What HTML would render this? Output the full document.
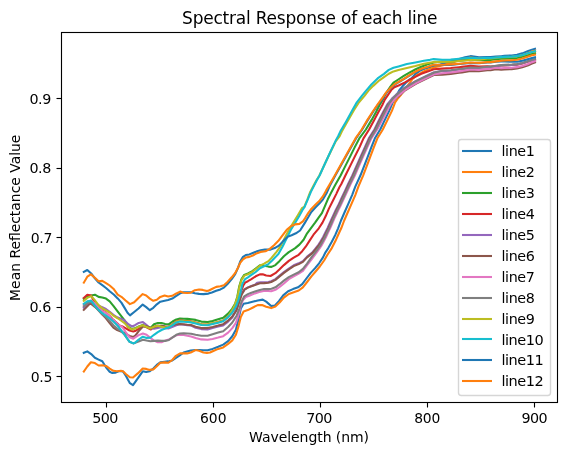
<!DOCTYPE html>
<html lang="en"><head><meta charset="utf-8"><title>Spectral Response of each line</title>
<style>html,body{margin:0;padding:0;background:#fff}svg{display:block}text{font-family:"DejaVu Sans","Liberation Sans",sans-serif;fill:#000}.t{font-size:13.889px}.c polyline{fill:none;stroke-width:2.0833;stroke-linejoin:round;stroke-linecap:square}.k line{stroke:#000;stroke-width:1.111}.g line{stroke-width:2.0833;stroke-linecap:square}</style></head><body>
<svg width="567" height="455" viewBox="0 0 567 455">
<rect width="567" height="455" fill="#fff"/>
<clipPath id="ax"><rect x="61.5" y="32.5" width="496" height="370"/></clipPath>
<g class="c" clip-path="url(#ax)"><g transform="translate(0,-0.2)">
<polyline stroke="#1f77b4" points="83.80,353.00 87.30,351.60 91.20,354.30 94.90,358.00 98.60,359.80 102.30,361.50 106.00,367.50 109.70,372.00 111.90,373.10 115.60,372.80 119.30,371.20 123.00,371.70 126.10,376.50 129.90,383.40 133.00,385.40 137.80,378.50 142.70,371.50 146.20,372.20 149.80,371.50 153.30,368.70 156.80,365.10 160.30,362.60 164.60,362.00 168.10,361.60 172.30,360.60 175.90,358.10 180.10,355.30 183.60,352.70 187.10,351.70 190.70,350.70 195.60,350.20 199.10,350.20 203.40,350.40 207.60,350.40 212.60,349.10 218.20,346.90 223.20,344.80 228.10,341.30 232.30,336.40 235.90,330.00 238.70,318.70 240.80,308.80 243.60,303.90 247.80,303.20 253.50,301.80 257.70,300.70 262.70,299.80 266.20,301.80 271.20,306.20 274.70,305.80 278.90,301.30 283.20,295.60 288.10,291.40 293.00,289.30 298.00,287.50 302.20,284.40 306.40,278.70 310.70,273.10 314.90,268.60 319.10,263.50 323.00,257.60 325.50,252.50 328.30,248.30 331.80,242.00 335.40,234.90 338.10,228.50 341.00,220.70 344.70,212.20 348.40,203.80 352.10,195.30 355.30,186.80 360.50,175.50 364.40,165.50 367.90,156.50 371.50,147.10 374.89,138.50 380.20,129.70 384.84,120.10 389.19,111.10 393.00,102.00 396.60,95.50 399.35,90.47 402.30,86.77 405.40,83.38 408.60,80.39 411.80,78.21 415.70,74.20 419.70,71.10 423.70,69.16 427.00,68.17 430.30,67.10 434.70,66.00 440.00,64.80 445.00,63.50 450.00,62.00 455.00,60.50 460.00,59.00 465.00,57.50 470.50,56.35 478.90,57.51 487.40,57.16 490.60,57.35 495.90,56.82 501.20,56.37 504.30,56.10 511.70,55.62 517.00,55.05 522.30,53.57 527.60,51.53 532.00,49.85 535.00,48.99"/>
<polyline stroke="#ff7f0e" points="83.80,371.70 87.30,366.70 90.90,362.50 94.90,363.30 98.60,365.70 102.30,365.40 106.00,366.10 109.70,368.90 113.40,371.00 117.20,371.40 120.90,371.00 123.00,371.40 126.10,374.40 129.90,377.50 133.00,377.70 137.80,373.60 142.70,368.70 146.20,369.10 149.80,370.10 153.30,369.60 156.80,366.50 160.30,363.00 164.60,362.60 168.10,363.00 172.30,360.20 175.90,356.00 180.10,353.60 183.60,353.60 187.10,353.60 190.70,352.70 195.60,350.30 199.10,351.00 203.40,352.70 206.90,353.10 210.00,352.70 213.30,351.20 218.20,349.10 223.20,347.60 228.10,344.10 232.30,340.60 235.90,334.90 238.70,325.80 240.80,317.30 243.60,311.70 247.80,310.30 253.50,307.40 257.70,305.30 262.00,305.20 266.20,306.90 271.20,308.30 275.40,306.70 279.60,302.70 283.90,297.80 288.80,294.20 293.70,292.50 298.70,290.70 302.90,287.50 307.10,282.20 311.40,276.60 315.60,271.70 319.80,266.70 324.10,260.70 327.60,254.70 331.80,248.30 335.40,241.30 338.90,233.50 341.20,228.50 344.20,220.70 347.90,212.20 351.60,203.80 355.30,195.30 358.40,186.80 363.20,175.50 367.00,165.50 370.40,156.50 374.00,147.10 377.39,138.50 382.80,129.70 387.54,120.10 391.89,111.10 395.12,102.50 398.18,98.20 401.27,94.70 404.00,91.00 408.00,85.36 412.20,79.50 416.50,75.70 421.30,72.99 425.30,70.90 429.00,69.30 434.70,67.50 440.00,66.30 445.00,65.00 450.00,63.50 455.00,62.00 460.00,60.50 465.00,59.00 470.50,57.79 478.90,58.73 487.40,58.47 490.60,58.70 495.90,58.25 501.20,57.87 504.30,57.65 511.70,57.28 517.00,56.78 522.30,55.37 527.60,53.41 532.00,51.80 535.00,50.98"/>
<polyline stroke="#2ca02c" points="83.80,299.00 87.30,296.50 91.20,295.60 94.90,294.90 98.60,297.10 102.30,297.70 106.00,298.80 109.70,301.60 113.40,306.10 117.20,311.10 120.90,315.90 124.60,320.70 128.00,326.86 131.50,329.19 135.00,328.53 138.70,326.70 142.90,325.10 146.60,327.00 150.30,328.30 154.00,324.40 157.80,323.30 161.50,323.30 165.20,324.20 168.90,324.40 172.60,321.70 176.30,319.60 180.00,318.80 183.70,318.90 187.40,319.10 191.10,319.40 195.60,320.10 201.30,321.80 207.60,322.20 212.60,321.30 218.20,319.40 223.20,318.00 228.10,313.80 232.30,308.80 235.10,303.90 237.30,296.90 239.20,286.70 241.40,279.50 244.20,275.10 247.90,273.70 251.40,272.00 255.70,268.70 259.90,265.50 264.10,266.00 268.40,266.80 271.50,267.10 275.40,265.30 279.60,261.10 283.90,256.40 288.80,252.30 292.50,250.00 295.20,248.30 299.40,244.80 303.60,239.90 307.10,233.50 310.80,228.50 315.10,222.80 318.80,217.50 321.90,213.30 324.60,207.00 327.80,199.50 331.50,192.10 335.20,185.30 340.60,175.70 345.40,166.10 350.20,156.60 354.90,147.10 359.29,138.60 365.90,129.70 371.64,120.10 376.03,112.20 380.08,104.30 383.30,98.90 386.00,93.52 388.30,89.92 390.40,86.80 393.50,82.90 398.30,79.70 403.80,76.06 409.40,72.85 415.70,69.43 421.30,66.90 427.00,64.70 433.70,62.60 442.20,61.77 450.70,61.72 459.10,60.97 462.00,60.75 470.50,59.98 478.90,60.43 487.40,59.89 490.60,60.04 495.90,59.46 501.20,59.01 504.30,58.82 511.70,58.56 517.00,58.15 522.30,57.02 527.60,55.35 532.00,53.98 535.00,53.34"/>
<polyline stroke="#d62728" points="83.80,298.10 87.30,294.90 91.20,295.80 94.90,303.70 98.60,307.70 102.30,310.70 106.00,312.90 109.70,316.20 113.40,320.08 117.20,323.50 119.50,325.70 122.50,326.70 125.00,328.00 129.60,330.70 133.30,331.70 135.00,331.30 138.70,329.10 142.90,326.00 146.60,327.50 150.90,329.70 154.00,327.00 157.80,326.00 161.50,327.00 165.20,327.80 168.90,327.00 172.60,324.30 176.30,321.50 180.00,320.70 183.70,321.00 187.40,321.20 191.10,321.60 195.60,322.80 201.30,324.50 207.60,324.80 212.60,323.60 218.20,322.20 223.20,320.80 228.10,316.60 232.30,311.80 236.50,306.50 239.50,297.50 241.50,290.50 243.30,285.50 245.10,282.80 247.90,281.40 251.40,279.30 255.70,276.50 259.90,274.60 262.70,274.50 266.20,275.70 270.50,276.20 275.40,273.40 279.60,269.50 283.90,265.30 288.80,261.10 293.70,257.80 298.70,255.00 302.20,251.40 305.70,246.90 309.30,241.30 313.50,234.90 318.80,228.50 322.50,222.80 325.60,216.50 328.80,209.10 332.50,201.70 336.20,194.30 339.40,187.40 341.20,184.50 345.40,175.70 350.20,166.10 354.90,156.60 359.70,147.10 363.49,138.60 369.10,129.70 373.69,121.20 378.14,112.70 382.21,105.50 384.82,99.80 388.53,94.30 391.25,90.30 394.30,87.50 399.10,85.50 404.60,82.80 410.20,79.60 415.70,76.80 421.30,74.00 429.00,71.30 433.70,69.50 442.20,68.80 450.70,68.20 459.10,67.40 462.00,67.09 470.50,66.10 478.90,66.81 487.40,66.43 490.60,66.63 495.90,66.14 501.20,65.75 504.30,65.55 511.70,65.26 517.00,64.82 522.30,63.68 527.60,61.99 532.00,60.60 535.00,59.94"/>
<polyline stroke="#9467bd" points="83.80,308.00 87.30,304.50 91.20,302.30 94.90,304.00 98.60,306.00 102.30,307.50 106.00,309.20 109.70,312.00 113.40,315.00 117.20,317.50 120.90,318.90 124.60,320.70 128.30,324.40 132.00,326.70 135.00,325.40 138.70,323.10 142.90,322.30 146.60,325.30 150.30,328.40 154.00,329.00 157.80,328.10 161.50,327.50 165.20,328.40 168.90,328.60 172.60,327.00 176.30,325.40 180.00,324.40 183.70,324.90 187.40,325.40 191.10,325.70 195.60,327.90 201.30,329.30 207.60,329.60 212.60,328.30 218.20,326.80 223.20,325.60 228.10,321.80 232.30,317.80 236.30,310.30 238.80,300.50 240.80,293.50 243.20,291.93 244.40,289.70 247.90,287.60 251.40,286.20 255.00,284.94 257.10,282.90 260.60,282.50 264.80,282.50 268.40,282.30 271.20,281.48 275.40,279.30 279.60,275.80 283.90,272.30 288.80,268.70 293.70,265.50 298.70,263.50 302.90,261.30 307.10,256.80 311.90,253.10 314.77,249.70 317.77,245.90 320.44,241.70 323.00,237.40 325.23,232.90 327.50,228.40 329.72,223.50 331.73,218.80 334.04,214.00 335.64,210.50 337.85,206.30 341.47,198.50 345.19,190.60 348.00,184.50 352.30,175.70 356.50,166.10 360.70,156.60 365.00,147.10 368.79,138.60 374.40,129.70 379.04,120.10 383.41,111.70 387.48,104.30 391.97,98.79 395.84,95.10 399.57,91.90 404.00,88.30 409.60,84.80 415.10,81.60 420.70,78.80 428.40,75.21 433.10,72.79 442.20,71.29 450.70,70.83 459.10,69.68 462.00,69.33 470.50,68.17 478.90,68.28 487.40,67.28 490.60,67.26 495.90,66.39 501.20,65.70 504.30,65.49 511.70,65.17 517.00,64.70 522.30,63.54 527.60,61.82 532.00,60.41 535.00,59.74"/>
<polyline stroke="#8c564b" points="83.80,310.10 87.30,306.40 90.20,303.40 94.90,307.00 98.60,310.50 102.30,314.80 106.00,318.50 109.70,323.20 113.40,327.80 117.20,330.30 120.90,331.80 125.90,334.00 129.60,336.20 133.30,337.20 135.50,335.50 138.70,331.30 142.90,326.70 146.60,326.50 150.30,328.00 154.00,327.50 157.80,326.50 161.50,326.00 165.20,326.50 168.90,326.80 172.60,325.50 176.30,324.40 180.00,324.20 183.70,324.40 187.40,324.90 191.10,325.30 195.60,326.90 201.30,328.30 207.60,328.30 212.60,327.20 218.20,325.80 223.20,324.40 228.10,320.80 232.30,316.60 236.60,310.30 239.40,301.80 241.50,295.30 244.40,289.90 247.90,287.80 251.40,286.40 255.70,284.90 259.90,283.50 264.10,283.30 268.40,282.90 271.20,282.20 275.40,280.10 279.60,276.60 283.90,273.10 288.80,269.50 293.70,266.30 298.70,264.30 302.90,262.10 307.10,257.60 312.60,253.10 315.51,249.70 318.56,245.90 321.29,241.70 323.90,237.40 326.13,232.90 328.40,228.40 330.60,223.50 332.60,218.80 334.90,214.00 336.50,210.50 338.70,206.30 342.30,198.50 346.00,190.60 348.80,184.50 353.10,175.70 357.30,166.10 361.50,156.60 365.80,147.10 369.59,138.60 375.20,129.70 379.84,120.10 384.21,111.70 388.28,104.36 393.25,101.20 397.13,97.30 401.03,94.10 405.20,90.50 410.80,87.00 416.30,83.80 421.90,81.00 429.60,77.27 434.30,75.10 442.20,74.80 450.70,74.10 459.10,73.00 462.00,72.55 470.50,71.10 478.90,71.50 487.40,70.49 490.60,70.44 495.90,69.41 501.20,69.80 504.30,69.60 511.70,69.30 517.00,68.75 522.30,67.50 527.60,65.80 532.00,63.77 535.00,62.64"/>
<polyline stroke="#e377c2" points="83.80,305.00 87.30,302.00 91.20,300.70 94.90,304.00 98.60,308.00 102.30,311.00 106.00,313.20 109.70,316.50 111.10,318.70 114.80,321.40 118.50,325.10 122.20,327.20 125.90,332.50 129.60,337.48 133.30,338.90 135.50,337.40 138.70,335.34 142.90,333.70 146.60,335.00 150.30,338.10 154.00,340.80 157.80,342.40 161.50,342.40 165.20,340.80 168.90,339.70 172.60,337.60 176.30,335.50 180.00,335.00 183.70,335.20 187.40,336.00 191.10,336.70 195.60,338.20 201.30,339.60 207.60,339.90 212.60,339.20 218.20,337.80 223.20,336.40 228.10,332.80 232.30,328.30 235.90,323.00 238.70,314.50 240.80,306.00 242.90,300.40 245.70,297.30 249.30,295.90 254.90,293.60 259.10,292.20 264.80,291.00 271.20,291.40 275.40,290.00 279.60,287.20 283.90,283.70 288.80,279.40 293.70,276.60 298.70,273.80 302.90,271.00 307.10,265.30 311.40,259.70 316.40,253.10 318.87,249.70 321.42,245.90 323.71,241.70 325.90,237.40 327.93,232.90 330.10,228.40 332.30,223.50 334.30,218.80 336.60,214.00 338.20,210.50 340.40,206.30 344.00,198.50 347.70,190.60 350.50,184.50 354.84,175.70 359.03,166.10 363.22,156.60 367.51,147.10 371.35,138.60 377.26,129.70 382.20,120.10 386.71,111.70 390.66,104.43 393.63,100.40 397.50,96.50 401.40,93.30 405.60,89.70 411.20,86.20 416.70,83.00 422.30,80.20 430.00,76.43 434.70,74.30 442.20,73.40 450.70,72.70 459.10,71.60 462.00,71.15 470.50,69.70 478.90,70.10 487.40,69.09 490.60,69.04 495.90,68.01 501.20,68.40 504.30,68.20 511.70,67.90 517.00,67.35 522.30,66.10 527.60,64.40 532.00,62.37 535.00,61.24"/>
<polyline stroke="#7f7f7f" points="83.80,306.40 87.30,303.50 91.20,302.00 94.90,306.50 98.60,310.80 102.30,314.50 106.00,317.50 109.70,321.20 113.40,325.40 117.20,328.80 120.90,331.00 124.60,335.10 127.50,339.20 129.60,342.00 133.30,343.60 136.50,342.50 139.20,341.50 142.90,340.00 146.60,340.80 150.30,341.50 154.00,341.10 157.80,340.80 161.50,341.10 165.20,341.10 168.90,340.20 172.60,337.60 176.30,335.00 180.00,333.70 183.70,333.40 187.40,333.70 191.10,334.00 195.60,334.90 201.30,335.90 207.60,335.90 212.60,334.50 218.20,332.80 223.20,331.40 228.10,327.20 232.30,322.70 236.60,315.90 239.40,308.80 241.50,302.00 244.30,296.50 247.90,294.30 251.40,292.90 255.70,291.50 259.90,290.10 264.10,289.30 268.40,289.30 271.50,288.90 275.40,287.50 279.60,284.40 283.90,280.80 288.80,277.30 293.70,274.80 298.70,272.40 302.90,269.10 307.10,263.90 311.40,257.60 314.90,253.10 317.50,249.70 320.20,245.90 322.60,241.70 324.90,237.40 327.00,232.90 329.20,228.40 331.40,223.50 333.40,218.80 335.70,214.00 337.30,210.50 339.50,206.30 343.10,198.50 346.80,190.60 349.60,184.50 353.90,175.70 358.10,166.10 362.30,156.60 366.60,147.10 370.39,138.60 376.00,129.70 380.64,120.10 385.01,111.70 389.62,102.82 392.58,99.00 396.46,95.10 400.22,91.90 404.60,88.30 410.20,84.80 415.70,81.60 421.30,78.80 429.00,75.14 433.70,72.90 442.20,70.89 450.70,70.43 459.10,69.28 462.00,68.93 470.50,67.77 478.90,67.88 487.40,66.88 490.60,66.86 495.90,65.99 501.20,65.30 504.30,65.09 511.70,64.77 517.00,64.30 522.30,63.14 527.60,61.42 532.00,60.01 535.00,59.34"/>
<polyline stroke="#bcbd22" points="83.80,301.10 87.30,298.10 91.20,296.30 94.90,300.50 98.60,305.30 102.30,308.50 106.00,310.60 109.70,312.70 113.40,315.90 117.20,318.20 120.90,320.70 124.60,323.30 128.30,327.50 132.00,329.80 135.10,328.80 138.70,327.00 142.90,325.40 146.60,327.30 150.30,328.60 154.00,327.00 157.80,326.00 161.50,327.00 165.20,327.80 168.90,327.00 172.60,324.50 176.30,321.70 180.00,320.90 183.70,321.20 187.40,321.40 191.10,321.80 195.60,323.00 201.30,324.40 207.60,324.70 212.60,323.50 218.20,322.10 223.20,320.70 228.10,316.50 232.30,310.30 235.10,304.60 237.50,297.30 239.40,287.10 241.60,280.00 244.40,275.80 247.90,274.40 251.40,272.70 255.70,269.40 259.90,265.90 264.10,263.80 268.40,261.40 271.50,258.10 274.00,255.00 276.50,252.00 280.30,246.90 284.60,238.50 289.05,230.00 293.70,222.20 298.00,215.20 302.20,208.10 304.30,207.00 307.40,199.50 310.23,192.10 313.60,185.80 316.47,180.50 319.43,175.70 324.90,164.00 330.37,152.40 335.83,141.30 339.55,136.50 341.80,131.68 347.86,120.98 353.74,110.75 359.00,102.50 364.28,96.38 368.50,90.78 373.20,86.05 379.40,80.52 384.00,77.30 388.80,73.95 393.50,71.61 398.50,70.20 406.90,68.20 415.40,66.30 423.90,64.00 433.70,62.10 442.20,62.06 450.70,61.98 459.10,61.20 462.00,60.98 470.50,60.14 478.90,59.89 487.40,58.56 490.60,58.67 495.90,58.02 501.20,57.50 504.30,57.30 511.70,57.00 517.00,56.55 522.30,55.40 527.60,53.70 532.00,52.30 535.00,51.64"/>
<polyline stroke="#17becf" points="83.80,304.00 87.30,301.60 91.20,301.10 94.90,305.80 98.60,310.10 102.30,313.30 106.00,315.90 109.70,318.50 113.40,321.70 117.20,325.40 120.90,330.20 124.60,334.90 127.50,339.00 129.60,342.00 133.30,343.60 135.00,342.90 138.70,339.70 142.90,336.90 146.60,338.10 150.30,337.90 154.00,335.00 157.80,332.30 161.50,330.20 165.20,328.80 168.90,327.50 172.60,325.37 176.30,322.59 180.00,321.70 183.70,322.00 187.40,322.20 191.10,322.60 195.60,323.80 201.30,325.20 207.60,325.50 212.60,324.30 218.20,322.90 223.20,321.50 228.10,317.31 232.30,312.76 235.90,306.70 238.30,300.50 240.20,294.10 242.30,284.20 245.10,279.30 247.90,277.50 251.40,275.10 255.70,272.20 259.90,268.40 264.10,266.50 268.40,264.30 271.90,261.00 275.00,257.70 278.40,254.30 282.50,246.90 286.70,238.50 290.90,230.00 295.20,223.00 299.40,215.90 302.90,209.50 304.60,207.00 307.80,199.50 310.90,192.10 314.10,185.80 316.80,180.50 319.60,175.70 324.90,164.00 330.20,152.40 335.50,141.30 338.11,136.50 340.27,131.80 346.31,121.35 352.06,110.90 356.82,102.59 361.66,96.35 365.50,91.52 371.40,84.73 377.60,78.60 384.00,74.06 388.80,70.12 393.50,67.98 398.50,66.58 406.90,64.19 415.40,62.63 423.90,61.03 430.00,60.05 433.70,59.30 442.20,59.90 450.70,59.79 459.10,58.98 462.00,58.74 470.50,57.89 478.90,58.42 487.40,58.00 490.60,58.20 495.90,57.70 501.20,57.30 504.30,57.10 511.70,56.80 517.00,56.35 522.30,55.20 527.60,53.50 532.00,52.10 535.00,51.44"/>
<polyline stroke="#1f77b4" points="83.80,272.10 87.30,270.20 91.20,273.70 94.90,278.50 98.60,282.70 102.30,285.40 106.00,288.20 109.70,291.40 114.00,294.90 117.70,298.60 121.40,302.80 124.60,308.10 127.50,313.00 130.00,315.60 134.20,312.20 138.50,308.70 142.70,304.80 146.20,307.30 149.80,310.40 153.30,308.00 156.80,304.50 160.30,301.90 164.60,301.00 168.10,300.30 172.30,298.80 175.90,296.30 180.10,293.50 183.60,292.50 187.10,292.50 190.70,292.50 194.90,293.50 199.10,294.10 203.50,294.30 208.40,293.80 211.90,292.70 216.20,291.00 220.40,289.60 223.90,287.80 227.50,284.20 231.70,279.30 235.20,274.40 238.00,268.00 240.20,261.70 243.00,257.10 245.80,255.30 249.30,254.60 252.80,253.20 257.10,251.50 260.60,250.40 264.80,249.80 270.50,249.80 274.70,248.30 278.90,245.80 283.20,241.30 287.40,237.10 291.60,235.40 295.90,233.50 300.10,230.70 305.00,222.80 308.20,217.50 311.30,212.20 315.60,207.50 319.80,203.30 323.00,199.50 326.50,193.50 329.80,186.00 335.30,175.70 340.60,166.10 345.90,156.60 351.20,147.10 355.99,138.60 362.20,129.70 367.94,120.10 373.31,111.70 378.38,104.30 383.40,98.10 384.20,95.73 388.20,90.78 392.20,86.84 396.20,83.79 400.20,81.46 404.20,79.13 408.20,76.46 412.20,73.98 416.20,71.76 420.20,69.75 424.20,68.37 428.20,67.10 433.70,65.30 442.20,65.20 450.70,65.04 459.10,64.19 462.00,63.94 470.50,63.08 478.90,63.38 487.40,62.59 490.60,62.64 495.90,61.95 501.20,61.72 504.30,61.71 511.70,61.96 517.00,61.90 522.30,60.91 527.60,59.36 532.00,58.10 535.00,57.53"/>
<polyline stroke="#ff7f0e" points="83.80,282.90 87.30,276.90 90.90,274.60 94.90,278.00 98.60,281.50 102.30,281.10 106.00,283.30 109.70,285.70 113.40,288.90 117.70,294.90 121.40,297.00 125.60,300.70 129.90,304.30 134.20,302.40 138.50,298.10 142.70,294.30 146.20,295.70 149.80,298.80 153.30,301.00 156.80,300.00 160.30,297.10 164.60,295.70 168.10,296.70 172.30,296.00 175.90,293.90 180.10,291.80 183.60,292.90 187.10,293.20 190.70,292.90 194.90,290.40 199.10,289.70 202.70,290.10 206.90,291.10 208.40,291.00 211.90,289.20 216.20,287.10 220.40,286.40 223.90,285.40 227.50,282.10 231.70,277.50 235.20,273.20 238.00,268.00 240.20,263.10 243.00,259.50 245.80,257.70 249.30,257.10 252.80,255.70 257.10,253.40 260.60,252.10 265.50,251.50 269.80,249.10 274.00,245.50 278.20,241.30 282.50,235.60 286.70,230.00 290.90,226.50 295.20,224.60 299.40,224.10 302.90,221.50 305.00,218.60 308.20,213.30 311.30,209.10 315.60,204.80 319.80,200.60 323.00,196.40 326.20,190.60 329.30,185.30 334.80,175.70 340.10,166.10 345.40,156.60 350.70,147.10 355.49,138.60 361.70,129.70 367.44,120.10 372.81,111.70 377.88,104.30 382.90,97.30 386.20,92.55 390.30,88.30 394.30,84.60 399.10,81.80 404.60,78.60 410.20,74.81 415.70,71.72 421.30,68.90 426.90,67.30 430.00,66.10 433.70,65.00 442.20,64.90 450.70,64.74 459.10,63.89 462.00,63.64 470.50,62.78 478.90,63.08 487.40,62.29 490.60,62.34 495.90,61.59 501.20,60.99 504.30,60.76 511.70,60.40 517.00,59.90 522.30,58.71 527.60,56.96 532.00,55.53 535.00,54.84"/>
</g></g>
<g class="k">
<line x1="106.5" y1="402.5" x2="106.5" y2="407.5"/>
<line x1="213.5" y1="402.5" x2="213.5" y2="407.5"/>
<line x1="320.5" y1="402.5" x2="320.5" y2="407.5"/>
<line x1="427.5" y1="402.5" x2="427.5" y2="407.5"/>
<line x1="534.5" y1="402.5" x2="534.5" y2="407.5"/>
<line x1="56.5" y1="98.5" x2="61.5" y2="98.5"/>
<line x1="56.5" y1="168.5" x2="61.5" y2="168.5"/>
<line x1="56.5" y1="237.5" x2="61.5" y2="237.5"/>
<line x1="56.5" y1="307.5" x2="61.5" y2="307.5"/>
<line x1="56.5" y1="376.5" x2="61.5" y2="376.5"/>
</g>
<rect x="61.5" y="32.5" width="496" height="370" fill="none" stroke="#000" stroke-width="1.111"/>
<g class="t">
<text x="105.25" y="423" text-anchor="middle" font-size="14.3px" textLength="26.25">500</text>
<text x="213.25" y="423" text-anchor="middle" font-size="13.889px">600</text>
<text x="319.25" y="423" text-anchor="middle" font-size="14.3px" textLength="26.25">700</text>
<text x="427.25" y="423" text-anchor="middle" font-size="13.889px" textLength="26.25">800</text>
<text x="534.5" y="423" text-anchor="middle" font-size="14.3px" textLength="26.25">900</text>
<text x="52.5" y="382" text-anchor="end" font-size="14.0px" textLength="21.875">0.5</text>
<text x="51.25" y="312" text-anchor="end" font-size="14.3px" textLength="21.875">0.6</text>
<text x="52.5" y="243" text-anchor="end" font-size="14.0px" textLength="21.875">0.7</text>
<text x="51.25" y="173" text-anchor="end" font-size="14.3px" textLength="21.875">0.8</text>
<text x="51.25" y="104" text-anchor="end" font-size="14.3px" textLength="21.875">0.9</text>
<text x="309.05" y="442" text-anchor="middle" font-size="14px" textLength="120">Wavelength (nm)</text>
<text transform="translate(20.2,217.75) rotate(-90)" text-anchor="middle" textLength="166.25">Mean Reflectance Value</text>
</g>
<text x="309.8" y="24" text-anchor="middle" font-size="17px" textLength="255.5">Spectral Response of each line</text>
<rect x="458.5" y="139.5" width="92" height="256" rx="2.78" ry="2.78" fill="#fff" fill-opacity="0.8" stroke="#ccc" stroke-opacity="0.8" stroke-width="1.389"/>
<g class="g">
<line x1="463.06" y1="151" x2="490.94" y2="151" stroke="#1f77b4"/>
<line x1="463.06" y1="172" x2="490.94" y2="172" stroke="#ff7f0e"/>
<line x1="463.06" y1="193" x2="490.94" y2="193" stroke="#2ca02c"/>
<line x1="463.06" y1="214" x2="490.94" y2="214" stroke="#d62728"/>
<line x1="463.06" y1="235" x2="490.94" y2="235" stroke="#9467bd"/>
<line x1="463.06" y1="256" x2="490.94" y2="256" stroke="#8c564b"/>
<line x1="463.06" y1="277" x2="490.94" y2="277" stroke="#e377c2"/>
<line x1="463.06" y1="298" x2="490.94" y2="298" stroke="#7f7f7f"/>
<line x1="463.06" y1="319" x2="490.94" y2="319" stroke="#bcbd22"/>
<line x1="463.06" y1="339" x2="490.94" y2="339" stroke="#17becf"/>
<line x1="463.06" y1="360" x2="490.94" y2="360" stroke="#1f77b4"/>
<line x1="463.06" y1="381" x2="490.94" y2="381" stroke="#ff7f0e"/>
</g><g class="t" style="font-size:14.3px">
<text x="501.5" y="156" textLength="33.3">line1</text>
<text x="501.5" y="177" textLength="33.3">line2</text>
<text x="501.5" y="198" textLength="33.3">line3</text>
<text x="501.5" y="219" textLength="33.3">line4</text>
<text x="501.5" y="240" textLength="33.3">line5</text>
<text x="501.5" y="261" textLength="33.3">line6</text>
<text x="501.5" y="282" textLength="33.3">line7</text>
<text x="501.5" y="303" textLength="33.3">line8</text>
<text x="501.5" y="324" textLength="33.3">line9</text>
<text x="501.5" y="345" textLength="42.3" font-size="14.5px">line10</text>
<text x="501.5" y="365" textLength="42.3" font-size="14.5px">line11</text>
<text x="501.5" y="386" textLength="42.3" font-size="14.5px">line12</text>
</g>
</svg></body></html>
